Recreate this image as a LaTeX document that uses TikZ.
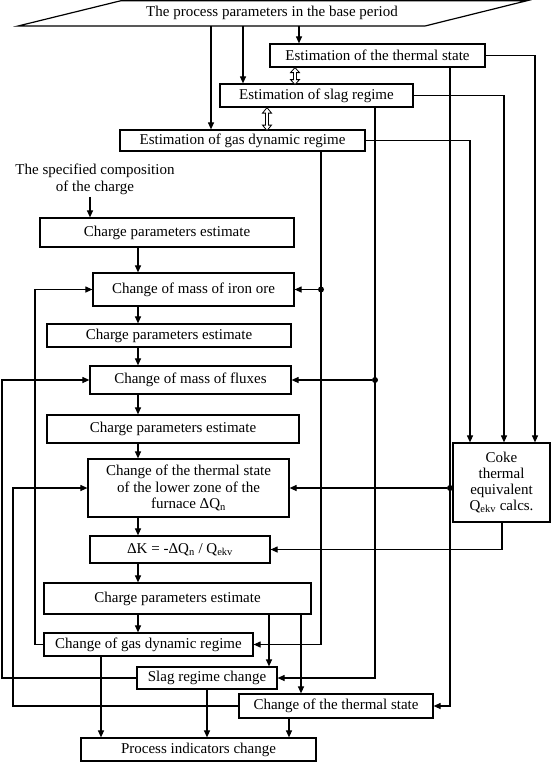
\documentclass[tikz,border=0pt]{standalone}
\usepackage{fontspec}
\setmainfont{Liberation Serif}
\usetikzlibrary{arrows.meta}
\begin{document}
\begin{tikzpicture}[x=1pt,y=-1pt,
  txt/.style={inner sep=0pt, align=center, font=\fontsize{15}{16.5}\selectfont},
  box/.style={txt, draw, line width=1.2pt},
  arr/.style={line width=1.1pt, -{Triangle[length=7pt,width=6pt]}},
  dbl/.style={line width=0.8pt, fill=white},
  dot/.style={circle, fill, inner sep=0pt, minimum size=6pt}]
\useasboundingbox (0,0) rectangle (553,764);
% top parallelogram
\draw[line width=1.2pt] (18,26) -- (121,0.7) -- (527,0.7) -- (425,26) -- cycle;
\node[txt, minimum width=300pt, minimum height=26pt] (pp) at (272,13) {The process parameters in the base period};
% estimation boxes
\node[box, minimum width=215pt, minimum height=23pt] (tes) at (377.5,55.5) {Estimation of the thermal state};
\node[box, minimum width=193pt, minimum height=23pt] (ses) at (316.5,95.5) {Estimation of slag regime};
\node[box, minimum width=245pt, minimum height=21pt] (ges) at (242.5,140.5) {Estimation of gas dynamic regime};
% left column
\node[txt, inner sep=2pt] (spec) at (95,179.5) {The specified composition\\of the charge};
\node[box, minimum width=254pt, minimum height=29pt] (c1) at (167,232.5) {Charge parameters estimate};
\node[box, minimum width=201pt, minimum height=33pt] (ore) at (193.5,289.5) {Change of mass of iron ore};
\node[box, minimum width=244pt, minimum height=23pt] (c2) at (169,335.5) {Charge parameters estimate};
\node[box, minimum width=201pt, minimum height=28pt] (flx) at (190.5,380) {Change of mass of fluxes};
\node[box, minimum width=252pt, minimum height=28pt] (c3) at (173,429) {Charge parameters estimate};
\node[box, minimum width=201pt, minimum height=58pt] (lz) at (188.5,488) {Change of the thermal state\\of the lower zone of the\\furnace ΔQ\textsubscript{n}};
\node[box, minimum width=180pt, minimum height=27pt] (dk) at (180,549.5) {ΔK = -ΔQ\textsubscript{n} / Q\textsubscript{ekv}};
\node[box, minimum width=267pt, minimum height=31pt] (c4) at (177.5,598.5) {Charge parameters estimate};
\node[box, minimum width=209pt, minimum height=23pt] (gd) at (148.5,644.5) {Change of gas dynamic regime};
\node[box, minimum width=140pt, minimum height=22pt] (sc) at (207,678) {Slag regime change};
\node[box, minimum width=194pt, minimum height=24pt] (tc) at (336,706) {Change of the thermal state};
\node[box, minimum width=235pt, minimum height=23pt] (pi) at (198.5,749.5) {Process indicators change};
\node[box, minimum width=97pt, minimum height=79pt, font=\fontsize{15}{15.7}\selectfont] (coke) at (501.5,482.5) {Coke\\thermal\\equivalent\\Q\textsubscript{ekv} calcs.};
% helper x positions
\coordinate (xa) at (211,0);
\coordinate (xb) at (243,0);
\coordinate (xc) at (299,0);
\coordinate (xd1) at (295,0);
\coordinate (xd2) at (267,0);
\coordinate (xs) at (90,0);
\coordinate (col) at (138,0);
\coordinate (xg) at (321,0);
\coordinate (xsl) at (375,0);
\coordinate (xth) at (450,0);
\coordinate (xk1) at (470,0);
\coordinate (xk2) at (504,0);
\coordinate (xk3) at (535,0);
\coordinate (xkb) at (502,0);
\coordinate (xl1) at (35,0);
\coordinate (xl2) at (2,0);
\coordinate (xl3) at (13,0);
\coordinate (xe1) at (269,0);
\coordinate (xe2) at (301,0);
\coordinate (xp1) at (101,0);
\coordinate (xp2) at (207,0);
\coordinate (xp3) at (289,0);
% arrows from top
\draw[arr] (pp.south -| xa) -- (ges.north -| xa);
\draw[arr] (pp.south -| xb) -- (ses.north -| xb);
\draw[arr] (pp.south -| xc) -- (tes.north -| xc);
% hollow double arrows
\draw[dbl] (tes.south -| xd1) -- ++(4.5,5) -- ++(-3,0) -- ++(0,7) -- ++(3,0) -- ++(-4.5,5) -- ++(-4.5,-5) -- ++(3,0) -- ++(0,-7) -- ++(-3,0) -- cycle;
\draw[dbl] (ses.south -| xd2) -- ++(4.5,5.5) -- ++(-3,0) -- ++(0,12) -- ++(3,0) -- ++(-4.5,5.5) -- ++(-4.5,-5.5) -- ++(3,0) -- ++(0,-12) -- ++(-3,0) -- cycle;
% to coke box
\draw[arr] (tes.east) -| (coke.north -| xk3);
\draw[arr] (ses.east) -| (coke.north -| xk2);
\draw[arr] (ges.east) -| (coke.north -| xk1);
\draw[arr] (coke.south -| xkb) |- (dk.east);
% long verticals
\draw[arr] (ges.south -| xg) |- (gd.east);
\draw[arr] (ses.south -| xsl) |- (sc.east);
\draw[arr] (tes.south -| xth) |- (tc.east);
\node[dot] (d1) at (xg |- ore.east) {};
\node[dot] (d2) at (xsl |- flx.east) {};
\node[dot] (d3) at (xth |- lz.east) {};
\draw[arr] (d1) -- (ore.east);
\draw[arr] (d2) -- (flx.east);
\draw[arr] (d3) -- (lz.east);
% main column
\draw[arr] (spec.south -| xs) -- (c1.north -| xs);
\draw[arr] (c1.south -| col) -- (ore.north -| col);
\draw[arr] (ore.south -| col) -- (c2.north -| col);
\draw[arr] (c2.south -| col) -- (flx.north -| col);
\draw[arr] (flx.south -| col) -- (c3.north -| col);
\draw[arr] (c3.south -| col) -- (lz.north -| col);
\draw[arr] (lz.south -| col) -- (dk.north -| col);
\draw[arr] (dk.south -| col) -- (c4.north -| col);
\draw[arr] (c4.south -| col) -- (gd.north -| col);
\draw[arr] (c4.south -| xe1) -- (sc.north -| xe1);
\draw[arr] (c4.south -| xe2) -- (tc.north -| xe2);
\draw[arr] (gd.south -| xp1) -- (pi.north -| xp1);
\draw[arr] (sc.south -| xp2) -- (pi.north -| xp2);
\draw[arr] (tc.south -| xp3) -- (pi.north -| xp3);
% feedback loops on the left
\draw[arr] (gd.west) -- (gd.west -| xl1) -- (xl1 |- ore.west) -- (ore.west);
\draw[arr] (sc.west) -- (sc.west -| xl2) -- (xl2 |- flx.west) -- (flx.west);
\draw[arr] (tc.west) -- (tc.west -| xl3) -- (xl3 |- lz.west) -- (lz.west);
\end{tikzpicture}
\end{document}
